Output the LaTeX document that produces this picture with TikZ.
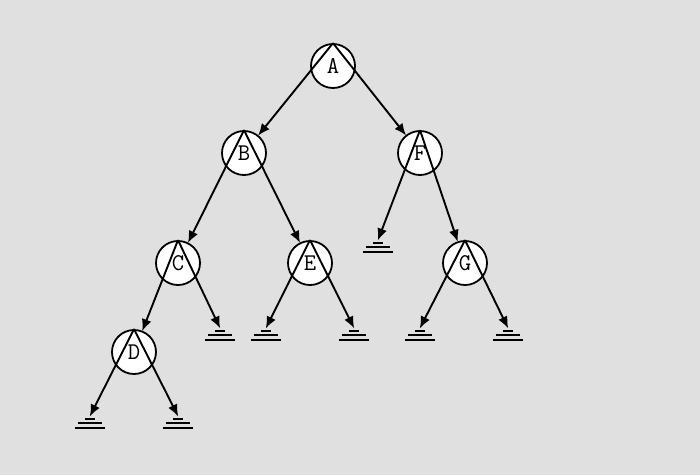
\documentclass[tikz,border=0pt]{standalone}
\usetikzlibrary{arrows.meta,calc}
\begin{document}
\begin{tikzpicture}[x=1pt,y=-1pt,
  vert/.style={circle,draw,fill=white,line width=1.8pt,minimum size=44pt,inner sep=0pt,font=\ttfamily\fontsize{24}{24}\selectfont},
  edge/.style={line width=1.9pt,-{Latex[length=12pt,width=10pt]},shorten >=-0.5pt},
  gline/.style={line width=2pt}]
\fill[fill={rgb,255:red,224;green,224;blue,224}] (0,0) rectangle (700,475);
\useasboundingbox (0,0) rectangle (700,475);
\node[vert] (A) at (333,66) {A};
\node[vert] (B) at (244,153) {B};
\node[vert] (F) at (420,153) {F};
\node[vert] (C) at (178,263) {C};
\node[vert] (E) at (310,263) {E};
\node[vert] (G) at (465,263) {G};
\node[vert] (D) at (134,352) {D};
\newcommand\gnd[2]{\coordinate (#1) at (#2);
  \draw[gline] ($(#1)+(-5,2.5)$) -- ++(10,0) ($(#1)+(-12,6.5)$) -- ++(24,0) ($(#1)+(-15,11.5)$) -- ++(30,0);}
\gnd{fl}{378,240}
\gnd{cr}{220,328}
\gnd{el}{266,328}
\gnd{er}{354,328}
\gnd{gl}{420,328}
\gnd{gr}{508,328}
\gnd{dl}{90,416}
\gnd{dr}{178,416}
\draw[edge] (A.north) -- (B);
\draw[edge] (A.north) -- (F);
\draw[edge] (B.north) -- (C);
\draw[edge] (B.north) -- (E);
\draw[edge] (F.north) -- (fl);
\draw[edge] (F.north) -- (G);
\draw[edge] (C.north) -- (D);
\draw[edge] (C.north) -- (cr);
\draw[edge] (E.north) -- (el);
\draw[edge] (E.north) -- (er);
\draw[edge] (G.north) -- (gl);
\draw[edge] (G.north) -- (gr);
\draw[edge] (D.north) -- (dl);
\draw[edge] (D.north) -- (dr);
\end{tikzpicture}
\end{document}
